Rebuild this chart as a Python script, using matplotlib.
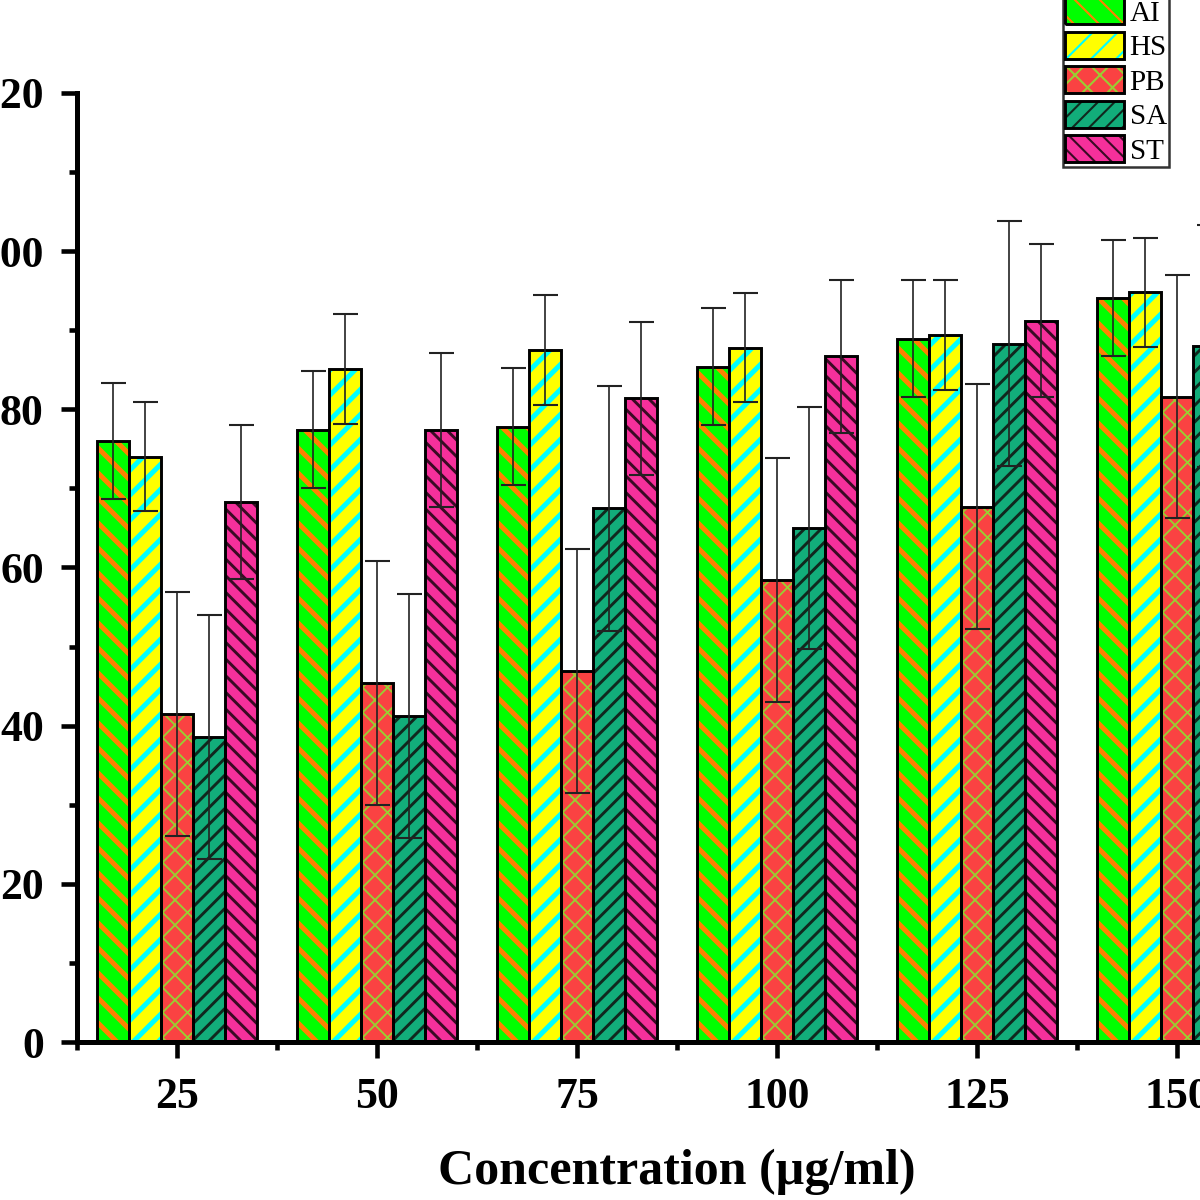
#Gráfica de barras agrupadas con barras de error
#Librerias
import matplotlib
matplotlib.use("Agg")
import matplotlib.pyplot as plt
from matplotlib.patches import Patch
import numpy as np

#Datos
concentraciones = ["25", "50", "75", "100", "125", "150"]
series = ["AI", "HS", "PB", "SA", "ST"]
AI = [76.0, 77.4, 77.8, 85.4, 88.9, 94.1]
HS = [74.0, 85.1, 87.5, 87.8, 89.4, 94.8]
PB = [41.5, 45.4, 46.9, 58.4, 67.7, 81.6]
SA = [38.6, 41.2, 67.5, 65.0, 88.3, 88.0]
ST = [68.3, 77.4, 81.4, 86.7, 91.2, 95.0]
err_AI = [7.3, 7.4, 7.4, 7.4, 7.4, 7.3]
err_HS = [6.9, 6.9, 7.0, 6.9, 6.9, 6.9]
err_PB = [15.4, 15.4, 15.4, 15.4, 15.5, 15.4]
err_SA = [15.4, 15.4, 15.5, 15.3, 15.5, 15.3]
err_ST = [9.7, 9.7, 9.7, 9.7, 9.7, 9.7]

valores = [AI, HS, PB, SA, ST]
errores = [err_AI, err_HS, err_PB, err_SA, err_ST]

#Estilo de cada serie: relleno, color de trama, trama, grosor de trama
rellenos = ["#00ff00", "#ffff00", "#fa4242", "#12ad7a", "#f5309b"]
colores_trama = ["#ff8000", "#00ffff", "#9acd32", "#10281e", "#3a0a24"]
tramas = ["\\\\", "//", "xx", "///", "\\\\\\"]
grosores = [2.4, 2.4, 0.9, 1.4, 1.4]

plt.rcParams['font.family'] = ['Liberation Serif', 'DejaVu Serif']

fig = plt.figure(figsize=(8, 8), dpi=150)
#El eje se sale de la figura por la derecha (la imagen original esta recortada)
ax = fig.add_axes([77/1200, 1-1042/1200, 1.0, (1042-93)/1200])

x = np.arange(1, len(concentraciones)+1)
ancho = 0.16
handles = []
for i in range(len(series)):
	pos = x + (i-2)*ancho
	with plt.rc_context({'hatch.linewidth': grosores[i]}):
		b1 = ax.bar(pos, valores[i], ancho, color=rellenos[i], edgecolor=colores_trama[i],
					hatch=tramas[i], linewidth=0, zorder=2)
	for p in b1:
		try:
			p.set_hatch_linewidth(grosores[i])
		except AttributeError:
			pass
	ax.bar(pos, valores[i], ancho, facecolor='none', edgecolor='black', linewidth=1.4, zorder=3)
	ax.errorbar(pos, valores[i], yerr=errores[i], fmt='none', ecolor='#222222',
				elinewidth=0.8, capsize=6, capthick=1.0, zorder=4)
	#Elementos para la leyenda
	with plt.rc_context({'hatch.linewidth': grosores[i]}):
		h1 = Patch(facecolor=rellenos[i], edgecolor=colores_trama[i], hatch=tramas[i], linewidth=0)
	try:
		h1.set_hatch_linewidth(grosores[i])
	except AttributeError:
		pass
	h2 = Patch(facecolor='none', edgecolor='black', linewidth=1.4)
	handles.append((h1, h2))

ax.set_xlim(0.5, 6.5)
ax.set_ylim(0, 120)
ax.set_xticks(x)
ax.set_xticklabels(concentraciones)
ax.set_xticks(np.arange(0.5, 7, 1), minor=True)
ax.set_yticks(np.arange(0, 121, 20))
ax.set_yticks(np.arange(10, 120, 20), minor=True)

ax.spines['top'].set_visible(False)
ax.spines['right'].set_visible(False)
ax.spines['left'].set_linewidth(2.4)
ax.spines['bottom'].set_linewidth(2.4)
ax.tick_params(which='major', direction='out', length=7.5, width=2.2, labelsize=21)
ax.tick_params(axis='x', which='major', pad=9.5)
ax.tick_params(axis='y', which='major', pad=8.5)
ax.tick_params(which='minor', direction='out', length=3.8, width=2.2)
for t in ax.get_xticklabels() + ax.get_yticklabels():
	t.set_fontweight('bold')

ax.set_xlabel('Concentration (µg/ml)', fontsize=24, fontweight='bold', labelpad=15)

leg = fig.legend(handles, series, loc='lower left', bbox_to_anchor=(1063/1200, 1-167/1200),
				 fontsize=14, frameon=True, fancybox=False, edgecolor='black',
				 handlelength=2.0, handleheight=1.05, labelspacing=0.17, handletextpad=0.2,
				 borderpad=0.08, borderaxespad=0)
leg.get_frame().set_linewidth(1.2)

fig.savefig("out.png", dpi=150)
